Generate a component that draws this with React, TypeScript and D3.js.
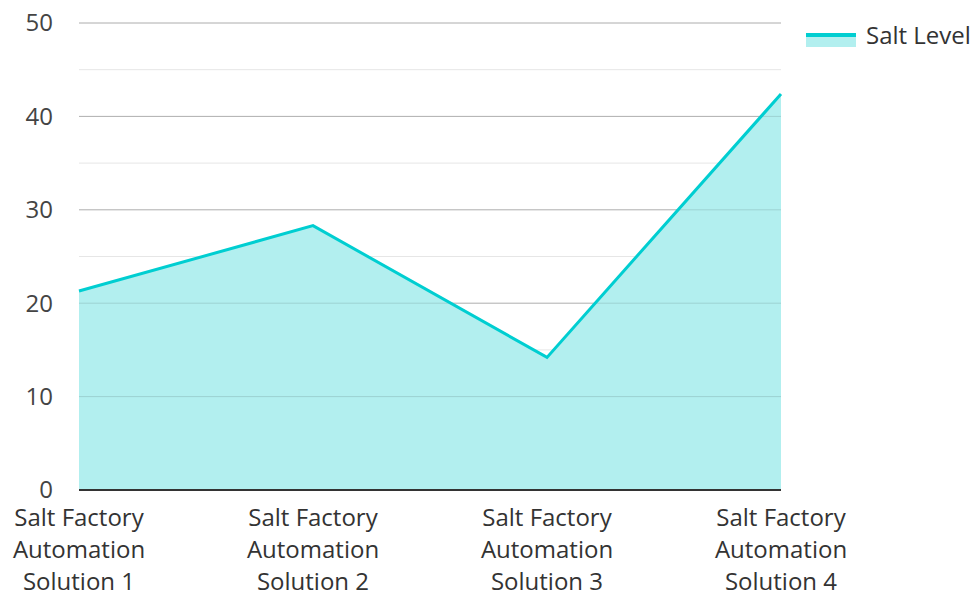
import React from "react";
import * as d3 from "d3";

const categories = [
  ["Salt Factory", "Automation", "Solution 1"],
  ["Salt Factory", "Automation", "Solution 2"],
  ["Salt Factory", "Automation", "Solution 3"],
  ["Salt Factory", "Automation", "Solution 4"],
];
const saltLevel = [21.3, 28.3, 14.2, 42.4];
const yTicks = [0, 10, 20, 30, 40, 50];
const minorTicks = [5, 15, 25, 35, 45];
const seriesName = "Salt Level";

const W = 978;
const H = 594;
const left = 79;
const right = 781;
const top = 23;
const bottom = 490;
const LINE = "#00CED1";
const FILL = "#B2EFEF";
const FONT = "'Open Sans', 'Noto Sans', sans-serif";

export default function App() {
  const x = d3.scalePoint<number>().domain(d3.range(categories.length)).range([left, right]);
  const y = d3.scaleLinear().domain([0, 50]).range([bottom, top]);
  const line = d3.line<number>().x((_, i) => x(i)!).y((d) => y(d));
  const area = d3.area<number>().x((_, i) => x(i)!).y0(y(0)).y1((d) => y(d));

  return (
    <svg width={W} height={H} style={{ position: "absolute", left: 0, top: 0 }} fontFamily={FONT}>
      {minorTicks.map((t) => (
        <line key={"m" + t} x1={left} x2={right} y1={y(t)} y2={y(t)} stroke="#e6e6e6" strokeWidth={1} />
      ))}
      {yTicks.filter((t) => t !== 0).map((t) => (
        <line key={"g" + t} x1={left} x2={right} y1={y(t)} y2={y(t)} stroke="#c8c8c8" strokeWidth={1} />
      ))}
      <path d={area(saltLevel)!} fill={FILL} />
      {yTicks.filter((t) => t !== 0).map((t) => (
        <line key={"go" + t} x1={left} x2={right} y1={y(t)} y2={y(t)} stroke="#000" strokeOpacity={0.12} strokeWidth={1} />
      ))}
      <path d={line(saltLevel)!} fill="none" stroke={LINE} strokeWidth={3} strokeLinejoin="miter" />
      <line x1={left} x2={right} y1={y(0)} y2={y(0)} stroke="#333" strokeWidth={2} />
      {yTicks.map((t) => (
        <text key={"t" + t} x={53} y={y(t)} dy="0.35em" textAnchor="end" fontSize={24} fill="#444">
          {t}
        </text>
      ))}
      {categories.map((c, i) => (
        <text key={"c" + i} x={x(i)} textAnchor="middle" fontSize={24} fill="#333">
          {c.map((l, j) => (
            <tspan key={j} x={x(i)} y={518 + j * 32} dy="0.35em">
              {l}
            </tspan>
          ))}
        </text>
      ))}
      <g>
        <rect x={806} y={35} width={50} height={12} fill={FILL} />
        <line x1={806} x2={856} y1={35} y2={35} stroke={LINE} strokeWidth={4} />
        <text x={866} y={36} dy="0.35em" fontSize={24} fill="#333">
          {seriesName}
        </text>
      </g>
    </svg>
  );
}
